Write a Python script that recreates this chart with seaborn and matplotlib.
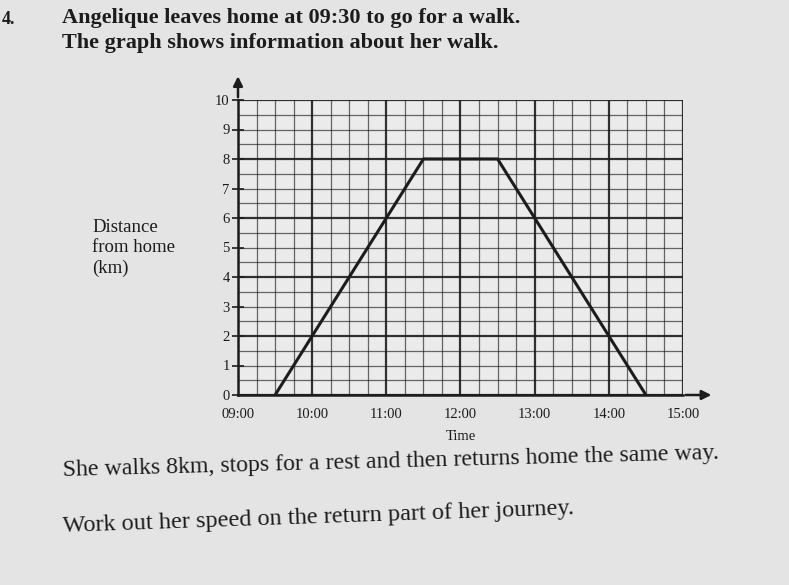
import matplotlib
matplotlib.use("Agg")
import matplotlib.pyplot as plt
import seaborn as sns
import pandas as pd
import numpy as np

# ---- data ----
walk_times = ["09:30", "11:30", "12:30", "14:30"]
walk_distance_km = [0, 8, 8, 0]
xtick_labels = ["09:00", "10:00", "11:00", "12:00", "13:00", "14:00", "15:00"]
ytick_values = [0, 1, 2, 3, 4, 5, 6, 7, 8, 9, 10]

def to_hours(s):
    h, m = s.split(":")
    return int(h) + int(m) / 60.0

df = pd.DataFrame({"Time": [to_hours(t) for t in walk_times],
                   "Distance": walk_distance_km})
xticks = [to_hours(t) for t in xtick_labels]

sns.set_theme(style="white")
plt.rcParams["font.family"] = ["Liberation Serif", "DejaVu Serif"]

fig = plt.figure(figsize=(7.89, 5.85), dpi=100, facecolor="#e4e4e4")
ax = fig.add_axes([238/789, 1-395/585, 445/789, 295/585])
ax.set_facecolor("#ebebeb")

ink = "#1c1c1c"
# grid
for xv in np.arange(9, 15.001, 0.25):
    major = abs(xv - round(xv)) < 1e-6
    ax.axvline(xv, color=ink, lw=1.6 if major else 0.9, alpha=0.9 if major else 0.65, zorder=1)
for yv in np.arange(0, 10.001, 0.5):
    major = abs(yv/2 - round(yv/2)) < 1e-6
    ax.axhline(yv, color=ink, lw=1.6 if major else 0.9, alpha=0.9 if major else 0.65, zorder=1)

sns.lineplot(data=df, x="Time", y="Distance", ax=ax, color=ink, lw=2.2, zorder=3)

ax.set_xlim(9, 15)
ax.set_ylim(0, 10)
ax.set_xticks(xticks)
ax.set_xticklabels(xtick_labels, fontsize=10.5, color=ink)
ax.set_yticks(ytick_values)
ax.set_yticklabels([str(v) for v in ytick_values], fontsize=10.5, color=ink)
ax.tick_params(axis="y", direction="inout", length=8, width=1.2, color=ink, pad=2, left=True)
ax.tick_params(axis="x", length=0, pad=9)
ax.set_xlabel("Time", fontsize=10.5, color=ink, labelpad=7)
ax.set_ylabel("")
for s in ["top", "right"]:
    ax.spines[s].set_visible(False)
for s in ["left", "bottom"]:
    ax.spines[s].set_color(ink)
    ax.spines[s].set_linewidth(1.8)

# axis arrows
ax.annotate("", xy=(0, 1.09), xytext=(0, 1.0), xycoords="axes fraction",
            arrowprops=dict(arrowstyle="-|>", color=ink, lw=1.8, mutation_scale=14), annotation_clip=False)
ax.annotate("", xy=(1.07, 0), xytext=(1.0, 0), xycoords="axes fraction",
            arrowprops=dict(arrowstyle="-|>", color=ink, lw=1.8, mutation_scale=14), annotation_clip=False)

# texts
fig.text(2/789, 1-20/585, "4.", fontsize=13, fontweight="bold", color=ink, va="center")
fig.text(62/789, 1-18/585, "Angelique leaves home at 09:30 to go for a walk.",
         fontsize=16, fontweight="bold", color=ink, va="center")
fig.text(62/789, 1-43/585, "The graph shows information about her walk.",
         fontsize=16, fontweight="bold", color=ink, va="center")
fig.text(92/789, 1-248/585, "Distance\nfrom home\n(km)", fontsize=13.5, color=ink,
         va="center", linespacing=1.25)
fig.text(62/789, 1-462/585, "She walks 8km, stops for a rest and then returns home the same way.",
         fontsize=17.2, color=ink, va="center", rotation=1.5)
fig.text(62/789, 1-518/585, "Work out her speed on the return part of her journey.",
         fontsize=17.5, color=ink, va="center", rotation=2)

fig.savefig("out.png", dpi=100, facecolor=fig.get_facecolor())
